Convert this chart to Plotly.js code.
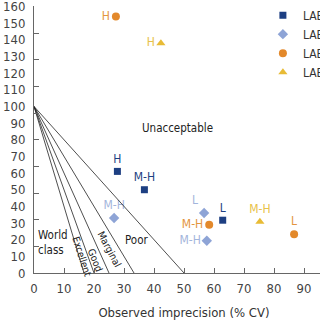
<!DOCTYPE html>
<html>
<head>
<meta charset="utf-8">
<script src="https://cdn.plot.ly/plotly-3.0.1.min.js"></script>
<style>
  html, body { margin: 0; padding: 0; overflow: hidden; background: #fff; }
  #chart { width: 345px; height: 320px; }
</style>
</head>
<body>
<div id="chart"></div>
<script>
// Method decision chart: observed bias vs imprecision, allowable total error = 100%
const TEA = 100;
const sigmaLevels = [6, 5, 4, 3, 2];

// Per-laboratory observations (x = imprecision %CV, y = bias %)
const lab1X = [27.8, 36.8, 62.9];
const lab1Y = [61, 50, 31.7];
const lab1Text = ['H', 'M-H', 'L'];

const lab2X = [26.7, 56.7, 57.6];
const lab2Y = [33, 36, 19.4];
const lab2Text = ['M-H', 'L', 'M-H'];

const lab3X = [27.3, 58.4, 86.7];
const lab3Y = [154, 29, 23.2];
const lab3Text = ['H', 'M-H', 'L'];

const lab4X = [42.3, 75.3];
const lab4Y = [138, 30.7];
const lab4Text = ['H', 'M-H'];

const labNames = ['LAB 1', 'LAB 2', 'LAB 3', 'LAB 4'];

const yTickVals = [0,10,20,30,40,50,60,70,80,90,100,110,120,130,140,150,160];
const xTickVals = [0,10,20,30,40,50,60,70,80,90];

const FONT = '"DejaVu Sans Condensed", "Liberation Sans Narrow", sans-serif';

// Sigma boundary lines: bias + k*CV = TEa
const boundX = [], boundY = [];
sigmaLevels.forEach(k => {
  boundX.push(0, TEA / k, null);
  boundY.push(TEA, 0, null);
});

const traces = [
  {
    x: boundX, y: boundY, mode: 'lines', showlegend: false, hoverinfo: 'skip',
    line: { color: '#222', width: 0.8 }, yaxis: 'y2'
  },
  {
    name: labNames[0], x: lab1X, y: lab1Y, text: lab1Text, mode: 'markers+text',
    textposition: ['top center', 'top center', 'top center'],
    textfont: { family: FONT, size: 12, color: '#1d3f82' },
    marker: { symbol: 'square', size: 7, color: '#1d3f82' }
  },
  {
    name: labNames[1], x: lab2X, y: lab2Y, text: lab2Text, mode: 'markers+text',
    textposition: ['top center', 'top left', 'middle left'],
    textfont: { family: FONT, size: 12, color: '#a3b5dc' },
    marker: { symbol: 'diamond', size: 8, color: '#8ea4d6' }
  },
  {
    name: labNames[2], x: lab3X, y: lab3Y, text: lab3Text, mode: 'markers+text',
    textposition: ['middle left', 'middle left', 'top center'],
    textfont: { family: FONT, size: 12, color: '#e3953f' },
    marker: { symbol: 'circle', size: 8, color: '#e3892b' }
  },
  {
    name: labNames[3], x: lab4X, y: lab4Y, text: lab4Text, mode: 'markers+text',
    textposition: ['middle left', 'top center'],
    textfont: { family: FONT, size: 12, color: '#e8c24a' },
    marker: { symbol: 'triangle-up', size: 8, color: '#e8bb35' }
  }
];

const zoneLabels = [
  { text: 'Unacceptable', x: 47.7, y: 87, angle: 0, size: 11.5 },
  { text: 'Poor', x: 34, y: 19.8, angle: 0, size: 11.5 },
  { text: 'Marginal', x: 25.2, y: 14.2, angle: 62, size: 10 },
  { text: 'Good', x: 20.4, y: 7.4, angle: 68, size: 10 },
  { text: 'Excellent', x: 15.9, y: 9.8, angle: 72, size: 10 },
  { text: 'World<br>class', x: 6.2, y: 18.6, angle: 0, size: 11.5 }
];

const layout = {
  width: 345, height: 320,
  margin: { l: 34, r: 11, t: 6, b: 47, autoexpand: false },
  paper_bgcolor: '#fff', plot_bgcolor: '#fff',
  font: { family: FONT, size: 12, color: '#333' },
  showlegend: true,
  legend: {
    x: 0.763, xanchor: 'left', y: 1.02, yanchor: 'top',
    bgcolor: 'rgba(0,0,0,0)', font: { family: FONT, size: 12, color: '#333' },
    itemwidth: 30, tracegroupgap: 0
  },
  xaxis: {
    range: [0, 100], tickvals: xTickVals, ticks: 'inside', ticklen: 5,
    tickcolor: '#666', showline: true, linecolor: '#666', linewidth: 1,
    showgrid: false, zeroline: false, ticklabeloverflow: 'allow', ticklabelstandoff: 3,
    tickfont: { family: FONT, size: 13, color: '#444' },
    title: { text: 'Observed imprecision (% CV)', font: { family: FONT, size: 13, color: '#333' }, standoff: 13 }
  },
  yaxis: {
    range: [0, 160.3], tickvals: yTickVals, ticks: '', showline: true, linecolor: '#666',
    linewidth: 1, showgrid: false, zeroline: false, ticklabelstandoff: 5,
    ticklabeloverflow: 'allow',
    tickfont: { family: FONT, size: 13, color: '#444' }
  },
  yaxis2: {
    range: [0, 160.3], overlaying: 'y', side: 'left', dtick: 16, tick0: 0,
    ticks: 'inside', ticklen: 5, tickcolor: '#666', showticklabels: false,
    showline: false, showgrid: false, zeroline: false
  },
  annotations: zoneLabels.map(z => ({
    text: z.text, x: z.x, y: z.y, xref: 'x', yref: 'y', showarrow: false,
    textangle: z.angle, align: 'left',
    font: { family: FONT, size: z.size, color: '#222' }
  }))
};

Plotly.newPlot('chart', traces, layout, { displayModeBar: false, staticPlot: true });
</script>
</body>
</html>
